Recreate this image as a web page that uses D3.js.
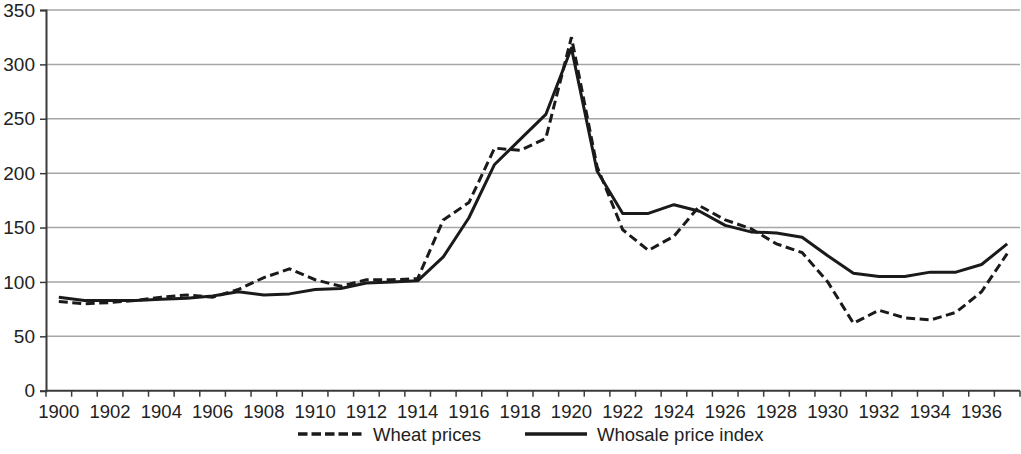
<!DOCTYPE html>
<html>
<head>
<meta charset="utf-8">
<script src="https://cdn.jsdelivr.net/npm/d3@7/dist/d3.min.js"></script>
<style>
  body { margin: 0; background: #fff; }
  svg { display: block; }
  svg text { font-family: "Liberation Sans", Arial, sans-serif; }
</style>
</head>
<body>
<svg id="chart" width="1021" height="454"></svg>
<script>
// years 1900..1937
var years = d3.range(1900, 1938);

var wheat = [
  82, 80, 81, 83, 86, 88, 86, 93, 104, 112,
  102, 96, 102, 102, 103, 157, 173, 223, 221, 232,
  325, 206, 148, 129, 142, 170, 157, 149, 135, 127,
  100, 62, 74, 67, 65, 72, 91, 126
];

var wholesale = [
  86, 83, 83, 83, 84, 85, 87, 91, 88, 89,
  93, 94, 99, 100, 101, 123, 159, 208, 231, 254,
  315, 202, 163, 163, 171, 165, 152, 146, 145, 141,
  124, 108, 105, 105, 109, 109, 116, 135
];

var yTicks = [0, 50, 100, 150, 200, 250, 300, 350];
var legendLabels = ['Wheat prices', 'Whosale price index'];

var svg = d3.select('#chart');
var plotLeft = 46, plotRight = 1020, plotTop = 10, plotBottom = 390.7;
var fontSize = 18.5;

var x = d3.scaleBand().domain(years).range([plotLeft, plotRight]).paddingInner(0).paddingOuter(0);
var y = d3.scaleLinear().domain([0, 350]).range([plotBottom, plotTop]);

// gridlines
svg.append('g')
  .selectAll('line')
  .data(yTicks.filter(function(d) { return d > 0; }))
  .enter().append('line')
  .attr('x1', plotLeft).attr('x2', plotRight)
  .attr('y1', function(d) { return y(d); })
  .attr('y2', function(d) { return y(d); })
  .attr('stroke', '#a6a6a6')
  .attr('stroke-width', 1.5);

// y axis
var yAxis = svg.append('g')
  .attr('transform', 'translate(' + plotLeft + ',0)')
  .call(d3.axisLeft(y).tickValues(yTicks).tickSize(6).tickPadding(5));
yAxis.attr('font-family', null).attr('font-size', fontSize + 0.5);
yAxis.select('.domain').attr('stroke', '#3a3a3a').attr('stroke-width', 2);
yAxis.selectAll('.tick line').attr('stroke', '#3a3a3a').attr('stroke-width', 1.5);
yAxis.selectAll('text').attr('fill', '#222');

// x axis: labels every other year, tick marks at band edges
var xAxis = svg.append('g')
  .attr('transform', 'translate(0,' + plotBottom + ')')
  .call(d3.axisBottom(x)
    .tickValues(years.filter(function(d) { return (d - 1900) % 2 === 0; }))
    .tickSize(0).tickPadding(14).tickSizeOuter(0));
xAxis.attr('font-family', null).attr('font-size', fontSize);
xAxis.select('.domain').attr('stroke', '#3a3a3a').attr('stroke-width', 2)
  .attr('d', 'M' + plotLeft + ',0H' + plotRight);
xAxis.selectAll('text').attr('fill', '#222');

xAxis.selectAll('.edge')
  .data(years.concat([1938]))
  .enter().append('line')
  .attr('class', 'edge')
  .attr('x1', function(d) { return d === 1938 ? plotRight : x(d); })
  .attr('x2', function(d) { return d === 1938 ? plotRight : x(d); })
  .attr('y1', 0).attr('y2', 6)
  .attr('stroke', '#3a3a3a').attr('stroke-width', 1.5);

// lines
var line = d3.line()
  .x(function(d, i) { return x(years[i]) + x.bandwidth() / 2; })
  .y(function(d) { return y(d); });

svg.append('path')
  .datum(wholesale)
  .attr('d', line)
  .attr('fill', 'none')
  .attr('stroke', '#1a1a1a')
  .attr('stroke-width', 3)
  .attr('stroke-linejoin', 'round');

svg.append('path')
  .datum(wheat)
  .attr('d', line)
  .attr('fill', 'none')
  .attr('stroke', '#1a1a1a')
  .attr('stroke-width', 3)
  .attr('stroke-dasharray', '9,4.5');

// legend
var legend = svg.append('g').attr('transform', 'translate(0,434)');
legend.append('line')
  .attr('x1', 298).attr('x2', 363).attr('y1', 0).attr('y2', 0)
  .attr('stroke', '#1a1a1a').attr('stroke-width', 3.5)
  .attr('stroke-dasharray', '9.5,4');
legend.append('text')
  .attr('x', 373).attr('y', 6.5)
  .attr('font-size', fontSize).attr('fill', '#222')
  .text(legendLabels[0]);
legend.append('line')
  .attr('x1', 525).attr('x2', 587).attr('y1', 0).attr('y2', 0)
  .attr('stroke', '#1a1a1a').attr('stroke-width', 3.5);
legend.append('text')
  .attr('x', 597).attr('y', 6.5)
  .attr('font-size', fontSize).attr('fill', '#222')
  .text(legendLabels[1]);
</script>
</body>
</html>
